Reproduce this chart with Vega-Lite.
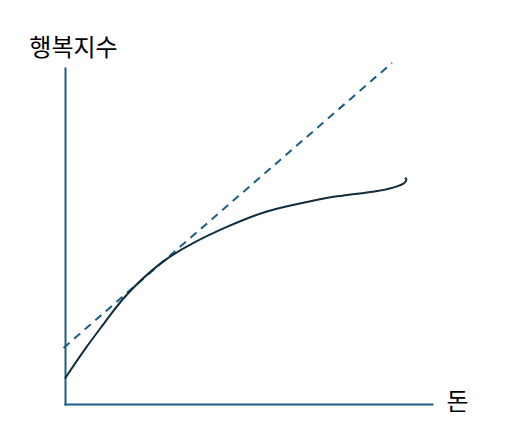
{
  "$schema": "https://vega.github.io/schema/vega-lite/v6.json",
  "width": 367,
  "height": 336,
  "autosize": {"type": "none"},
  "padding": {"left": 65, "top": 68, "right": 84, "bottom": 33},
  "background": "white",
  "config": {"view": {"stroke": null}},
  "datasets": {
    "guide": [
      {"x": -0.4, "y": 16.7},
      {"x": 89.1, "y": 101.5}
    ],
    "curve": [
      {"i": 0, "x": 0, "y": 7.6},
      {"i": 1, "x": 5.7, "y": 16.7},
      {"i": 2, "x": 11.4, "y": 25.1},
      {"i": 3, "x": 16.9, "y": 32.6},
      {"i": 4, "x": 25.9, "y": 41.7},
      {"i": 5, "x": 34.9, "y": 47.9},
      {"i": 6, "x": 44.1, "y": 52.7},
      {"i": 7, "x": 55.0, "y": 57.3},
      {"i": 8, "x": 65.9, "y": 60.1},
      {"i": 9, "x": 74.1, "y": 61.8},
      {"i": 10, "x": 83.9, "y": 63.2},
      {"i": 11, "x": 89.4, "y": 64.4},
      {"i": 12, "x": 92.1, "y": 65.5},
      {"i": 13, "x": 92.9, "y": 66.4},
      {"i": 14, "x": 93.0, "y": 66.9},
      {"i": 15, "x": 92.6, "y": 67.3}
    ]
  },
  "encoding": {
    "x": {
      "field": "x",
      "type": "quantitative",
      "scale": {"domain": [0, 100], "nice": false, "zero": false},
      "axis": {
        "title": "돈",
        "domainColor": "#1b5e82",
        "domainWidth": 2,
        "domainCap": "square",
        "ticks": false,
        "labels": false,
        "grid": false,
        "titleX": 392,
        "titleY": -2,
        "titleAlign": "center",
        "titleBaseline": "middle",
        "titleFontSize": 24,
        "titleFontWeight": "normal",
        "titleFont": "Noto Sans CJK KR",
        "titleColor": "#000000"
      }
    },
    "y": {
      "field": "y",
      "type": "quantitative",
      "scale": {"domain": [0, 100], "nice": false, "zero": false},
      "axis": {
        "title": "행복지수",
        "titleAngle": 0,
        "domainColor": "#1b5e82",
        "domainWidth": 2,
        "domainCap": "square",
        "ticks": false,
        "labels": false,
        "grid": false,
        "titleX": 8,
        "titleY": -20,
        "titleAlign": "center",
        "titleBaseline": "middle",
        "titleFontSize": 24,
        "titleFontWeight": "normal",
        "titleFont": "Noto Sans CJK KR",
        "titleColor": "#000000"
      }
    }
  },
  "layer": [
    {
      "data": {"name": "guide"},
      "mark": {"type": "line", "strokeDash": [8, 6], "color": "#1b5e82", "strokeWidth": 2, "clip": false}
    },
    {
      "data": {"name": "curve"},
      "mark": {"type": "line", "interpolate": "natural", "color": "#0f2d3d", "strokeWidth": 2, "clip": false},
      "encoding": {"order": {"field": "i", "type": "quantitative"}}
    }
  ]
}
